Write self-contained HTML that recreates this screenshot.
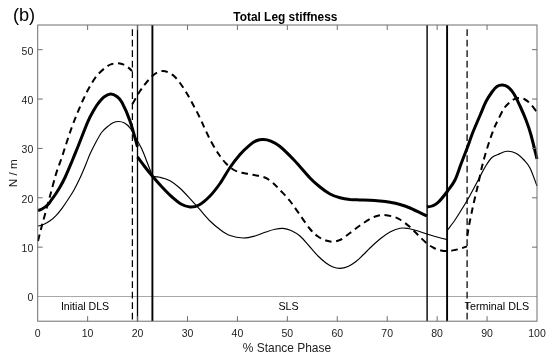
<!DOCTYPE html>
<html><head><meta charset="utf-8"><title>Total Leg stiffness</title>
<style>html,body{margin:0;padding:0;background:#fff;width:550px;height:360px;overflow:hidden}</style></head>
<body>
<svg width="550" height="360" viewBox="0 0 550 360" style="position:absolute;left:0;top:0">
<rect width="550" height="360" fill="#fff"/>
<line x1="37.7" x2="537.0" y1="296.52" y2="296.52" stroke="#a8a8a8" stroke-width="1"/>
<g fill="none" stroke="#000" stroke-linejoin="round">
<path d="M38.0,226.0C39.0,225.7 42.0,225.2 44.0,224.3C46.0,223.4 48.0,222.2 50.0,220.8C52.0,219.4 54.0,217.7 56.0,215.6C58.0,213.5 60.0,211.0 62.0,208.3C64.0,205.6 66.0,202.6 68.0,199.5C70.0,196.4 72.0,193.6 74.0,190.0C76.0,186.4 78.0,182.3 80.0,178.0C82.0,173.7 84.3,168.0 86.0,164.0C87.7,160.0 88.3,157.7 90.0,154.0C91.7,150.3 94.0,145.7 96.0,142.0C98.0,138.3 100.0,134.6 102.0,132.0C104.0,129.4 106.2,127.8 108.0,126.3C109.8,124.8 111.2,123.6 113.0,122.8C114.8,122.0 116.6,121.5 118.5,121.5C120.4,121.5 122.6,122.0 124.5,123.0C126.4,124.0 128.3,125.7 130.0,127.8C131.7,129.9 132.5,132.3 134.5,135.8C136.5,139.3 139.6,144.4 141.8,149.0C144.0,153.6 145.8,158.9 147.6,163.5C149.4,168.1 151.8,174.3 152.6,176.5" stroke-width="1.15"/>
<path d="M152.6,176.5C153.8,176.6 157.1,176.6 160.0,177.3C162.9,178.0 166.7,178.9 170.0,180.7C173.3,182.5 176.7,185.2 180.0,188.2C183.3,191.2 186.7,195.0 190.0,198.6C193.3,202.2 196.7,206.0 200.0,209.7C203.3,213.4 206.7,217.7 210.0,221.0C213.3,224.3 216.7,227.1 220.0,229.5C223.3,231.9 226.2,234.1 230.0,235.5C233.8,236.9 238.8,237.9 243.0,238.0C247.2,238.1 251.2,237.0 255.0,236.0C258.8,235.0 262.7,233.1 266.0,232.0C269.3,230.9 272.2,229.9 275.0,229.3C277.8,228.7 280.3,228.2 283.0,228.4C285.7,228.6 288.2,229.2 291.0,230.5C293.8,231.8 296.8,233.2 300.0,236.0C303.2,238.8 307.0,243.7 310.0,247.0C313.0,250.3 315.3,253.3 318.0,256.0C320.7,258.7 323.5,261.2 326.0,263.0C328.5,264.8 330.7,266.1 333.0,267.0C335.3,267.9 337.5,268.5 340.0,268.4C342.5,268.3 345.3,267.6 348.0,266.5C350.7,265.4 353.5,263.4 356.0,261.5C358.5,259.6 360.7,257.2 363.0,255.0C365.3,252.8 367.2,250.7 370.0,248.0C372.8,245.3 376.7,241.7 380.0,239.0C383.3,236.3 386.7,233.8 390.0,232.0C393.3,230.2 397.0,228.9 400.0,228.3C403.0,227.7 405.0,228.1 408.0,228.5C411.0,228.9 414.8,230.1 418.0,231.0C421.2,231.9 423.8,233.0 427.0,234.0C430.2,235.0 433.6,236.1 437.0,237.0C440.4,237.9 445.8,239.2 447.6,239.6" stroke-width="1.15"/>
<path d="M447.6,230.0C448.8,228.3 452.8,223.2 455.0,220.0C457.2,216.8 458.9,213.8 461.0,210.5C463.1,207.2 465.1,204.1 467.4,200.0C469.7,195.9 472.9,189.9 475.0,186.0C477.1,182.1 478.2,179.9 480.0,176.5C481.8,173.1 484.0,168.7 486.0,165.5C488.0,162.3 490.0,159.3 492.0,157.5C494.0,155.7 496.2,155.4 498.0,154.5C499.8,153.6 501.5,152.7 503.0,152.2C504.5,151.7 505.5,151.4 507.0,151.3C508.5,151.2 510.2,151.3 512.0,151.8C513.8,152.3 516.0,153.1 518.0,154.5C520.0,155.9 522.0,157.8 524.0,160.0C526.0,162.2 527.8,163.7 530.0,168.0C532.2,172.3 535.8,183.0 537.0,186.0" stroke-width="1.15"/>
<path d="M38.0,241.0C38.5,239.0 40.0,232.8 41.0,229.0C42.0,225.2 42.5,223.5 44.0,218.0C45.5,212.5 48.0,203.3 50.0,196.0C52.0,188.7 54.1,180.3 56.0,174.0C57.9,167.7 59.8,163.3 61.6,158.0C63.4,152.7 65.1,147.2 66.8,142.0C68.5,136.8 70.2,131.7 71.9,127.0C73.6,122.3 75.2,118.5 77.0,114.0C78.8,109.5 81.0,104.3 83.0,100.0C85.0,95.7 86.7,92.1 89.0,88.0C91.3,83.9 94.1,79.0 97.0,75.5C99.9,72.0 104.0,68.7 106.5,66.8C109.0,64.9 110.2,64.6 112.0,64.0C113.8,63.4 115.6,63.2 117.3,63.2C119.0,63.2 120.4,63.5 122.0,64.0C123.6,64.5 125.3,65.3 127.0,66.5C128.7,67.7 131.2,70.2 132.0,71.0" stroke-width="2" stroke-dasharray="6.6 4.6"/>
<path d="M132.4,104.0C133.7,101.8 137.7,94.5 140.0,91.0C142.3,87.5 143.9,85.5 146.0,83.0C148.1,80.5 150.4,77.8 152.4,76.0C154.4,74.2 156.2,73.0 158.0,72.2C159.8,71.4 161.3,71.0 163.0,71.0C164.7,71.0 166.2,71.5 168.0,72.3C169.8,73.1 172.0,74.2 174.0,76.0C176.0,77.8 178.0,80.3 180.0,83.0C182.0,85.7 183.8,88.4 186.0,92.0C188.2,95.6 190.7,100.2 193.0,104.5C195.3,108.8 198.0,113.9 200.0,118.0C202.0,122.1 203.3,125.4 205.0,129.0C206.7,132.6 208.2,136.0 210.0,139.5C211.8,143.0 214.3,147.2 216.0,150.0C217.7,152.8 218.3,153.8 220.0,156.0C221.7,158.2 223.7,161.2 226.0,163.5C228.3,165.8 231.3,168.4 234.0,170.0C236.7,171.6 239.3,172.1 242.0,172.8C244.7,173.5 247.3,173.8 250.0,174.3C252.7,174.8 255.3,175.2 258.0,175.8C260.7,176.4 263.5,176.8 266.0,178.0C268.5,179.2 270.7,181.0 273.0,183.0C275.3,185.0 277.2,187.0 280.0,190.0C282.8,193.0 286.7,196.8 290.0,201.0C293.3,205.2 296.7,210.3 300.0,215.0C303.3,219.7 307.0,225.4 310.0,229.0C313.0,232.6 315.3,234.6 318.0,236.5C320.7,238.4 323.5,239.7 326.0,240.5C328.5,241.3 330.5,241.8 333.0,241.6C335.5,241.4 338.2,240.9 341.0,239.5C343.8,238.1 346.8,235.3 350.0,233.0C353.2,230.7 356.7,227.8 360.0,225.5C363.3,223.2 367.2,220.6 370.0,219.0C372.8,217.4 374.8,216.7 377.0,216.0C379.2,215.3 380.5,214.9 383.0,215.0C385.5,215.1 389.2,215.6 392.0,216.3C394.8,217.1 397.0,217.7 400.0,219.5C403.0,221.3 407.0,224.4 410.0,227.0C413.0,229.6 415.2,232.2 418.0,235.0C420.8,237.8 424.3,241.3 427.0,243.5C429.7,245.7 431.7,246.8 434.0,248.0C436.3,249.2 438.7,250.0 441.0,250.5C443.3,251.0 445.7,251.1 448.0,251.0C450.3,250.9 452.8,250.4 455.0,250.0C457.2,249.6 459.0,249.1 461.0,248.5C463.0,247.9 466.0,246.8 467.0,246.4" stroke-width="2" stroke-dasharray="6.6 4.6"/>
<path d="M467.3,236.0C467.7,233.8 468.6,227.5 469.5,223.0C470.4,218.5 471.5,213.2 472.4,209.0C473.3,204.8 474.1,201.5 475.0,197.5C475.9,193.5 476.8,190.2 478.0,185.0C479.2,179.8 480.7,172.0 482.0,166.5C483.3,161.0 484.7,156.5 486.0,152.0C487.3,147.5 488.7,143.4 490.0,139.5C491.3,135.6 492.7,131.8 494.0,128.5C495.3,125.2 496.3,123.3 498.0,120.0C499.7,116.7 502.0,111.5 504.0,108.5C506.0,105.5 508.2,103.6 510.0,102.0C511.8,100.4 513.3,99.5 515.0,98.8C516.7,98.1 518.3,97.9 520.0,98.0C521.7,98.1 523.3,98.6 525.0,99.5C526.7,100.4 528.0,101.4 530.0,103.5C532.0,105.6 535.8,110.6 537.0,112.0" stroke-width="2" stroke-dasharray="6.6 4.6"/>
<path d="M38.0,210.5C38.7,210.2 40.4,209.9 42.0,209.0C43.6,208.1 46.0,206.4 47.5,205.0C49.0,203.6 49.8,202.2 51.0,200.5C52.2,198.8 53.5,197.2 55.0,195.0C56.5,192.8 58.3,189.9 60.0,187.0C61.7,184.1 62.9,182.0 65.0,177.5C67.1,173.0 70.3,165.2 72.5,160.0C74.7,154.8 75.4,152.9 78.0,146.5C80.6,140.1 85.3,127.4 88.0,121.3C90.7,115.2 92.3,112.8 94.0,109.8C95.7,106.8 96.3,105.7 98.0,103.6C99.7,101.5 101.9,98.6 104.0,97.0C106.1,95.4 108.4,94.1 110.5,94.0C112.6,93.9 114.6,94.8 116.5,96.2C118.4,97.6 119.8,98.4 122.0,102.5C124.2,106.6 127.4,113.6 130.0,121.0C132.6,128.4 136.2,142.4 137.5,146.7" stroke-width="3"/>
<path d="M137.5,157.0C138.8,158.7 142.5,163.8 145.0,167.0C147.5,170.2 149.9,173.2 152.7,176.5C155.5,179.8 158.8,183.6 162.0,187.0C165.2,190.4 168.8,194.2 172.0,197.0C175.2,199.8 178.0,202.3 181.0,204.0C184.0,205.7 187.0,206.8 190.0,207.0C193.0,207.2 195.7,206.8 199.0,205.0C202.3,203.2 206.5,199.6 210.0,196.0C213.5,192.4 216.7,188.2 220.0,183.5C223.3,178.8 226.7,172.3 230.0,167.5C233.3,162.7 236.7,158.3 240.0,154.5C243.3,150.7 247.2,147.1 250.0,144.8C252.8,142.5 254.8,141.4 257.0,140.5C259.2,139.6 260.8,139.4 263.0,139.5C265.2,139.6 267.2,139.6 270.0,140.8C272.8,142.0 276.0,143.3 280.0,146.5C284.0,149.7 289.0,154.8 294.0,160.0C299.0,165.2 305.7,173.5 310.0,178.0C314.3,182.5 316.7,184.3 320.0,187.0C323.3,189.7 326.7,192.2 330.0,194.0C333.3,195.8 336.7,196.9 340.0,197.8C343.3,198.7 346.7,199.2 350.0,199.6C353.3,199.9 356.7,199.8 360.0,199.9C363.3,200.0 366.7,200.0 370.0,200.2C373.3,200.4 376.7,200.7 380.0,201.0C383.3,201.3 386.7,201.7 390.0,202.3C393.3,202.9 396.7,203.6 400.0,204.5C403.3,205.4 405.5,206.1 410.0,208.0C414.5,209.9 424.2,214.7 427.0,216.0" stroke-width="3"/>
<path d="M427.0,207.0C427.8,206.8 430.2,206.8 432.0,206.0C433.8,205.2 435.4,205.0 438.0,202.5C440.6,200.0 444.8,194.8 447.6,191.0C450.4,187.2 452.8,184.5 455.0,180.0C457.2,175.5 459.0,169.2 461.0,164.0C463.0,158.8 465.0,153.8 467.0,148.5C469.0,143.2 470.8,137.5 473.0,132.0C475.2,126.5 477.8,120.6 480.0,115.5C482.2,110.4 484.0,105.4 486.0,101.5C488.0,97.6 490.2,94.5 492.0,92.0C493.8,89.5 495.2,87.7 497.0,86.5C498.8,85.3 500.8,84.9 502.6,85.0C504.4,85.1 506.1,85.5 508.0,87.0C509.9,88.5 512.0,90.8 514.0,94.0C516.0,97.2 518.0,101.7 520.0,106.0C522.0,110.3 524.2,115.2 526.0,120.0C527.8,124.8 529.2,128.5 531.0,135.0C532.8,141.5 536.0,155.0 537.0,159.0" stroke-width="3"/>
<line x1="132.4" x2="132.4" y1="29.2" y2="321.2" stroke-width="1.25" stroke-dasharray="6.8 3.7"/>
<line x1="467.1" x2="467.1" y1="29.2" y2="321.2" stroke-width="1.25" stroke-dasharray="6.8 3.7"/>
<line x1="137.5" x2="137.5" y1="25.0" y2="321.2" stroke-width="1.3"/>
<line x1="427.1" x2="427.1" y1="25.0" y2="321.2" stroke-width="1.4"/>
<line x1="152.4" x2="152.4" y1="25.0" y2="321.2" stroke-width="1.9"/>
<line x1="447.1" x2="447.1" y1="25.0" y2="321.2" stroke-width="1.9"/>
</g>
<g stroke="#6e6e6e" stroke-width="1" fill="none">
<rect x="37.7" y="25.0" width="499.3" height="296.2"/>
<line x1="87.63" x2="87.63" y1="321.2" y2="316.2"/>
<line x1="87.63" x2="87.63" y1="25.0" y2="30.0"/>
<line x1="137.56" x2="137.56" y1="321.2" y2="316.2"/>
<line x1="137.56" x2="137.56" y1="25.0" y2="30.0"/>
<line x1="187.49" x2="187.49" y1="321.2" y2="316.2"/>
<line x1="187.49" x2="187.49" y1="25.0" y2="30.0"/>
<line x1="237.42" x2="237.42" y1="321.2" y2="316.2"/>
<line x1="237.42" x2="237.42" y1="25.0" y2="30.0"/>
<line x1="287.35" x2="287.35" y1="321.2" y2="316.2"/>
<line x1="287.35" x2="287.35" y1="25.0" y2="30.0"/>
<line x1="337.28" x2="337.28" y1="321.2" y2="316.2"/>
<line x1="337.28" x2="337.28" y1="25.0" y2="30.0"/>
<line x1="387.21" x2="387.21" y1="321.2" y2="316.2"/>
<line x1="387.21" x2="387.21" y1="25.0" y2="30.0"/>
<line x1="437.14" x2="437.14" y1="321.2" y2="316.2"/>
<line x1="437.14" x2="437.14" y1="25.0" y2="30.0"/>
<line x1="487.07" x2="487.07" y1="321.2" y2="316.2"/>
<line x1="487.07" x2="487.07" y1="25.0" y2="30.0"/>
<line x1="37.7" x2="42.7" y1="247.15" y2="247.15"/>
<line x1="537.0" x2="532.0" y1="247.15" y2="247.15"/>
<line x1="37.7" x2="42.7" y1="197.78" y2="197.78"/>
<line x1="537.0" x2="532.0" y1="197.78" y2="197.78"/>
<line x1="37.7" x2="42.7" y1="148.42" y2="148.42"/>
<line x1="537.0" x2="532.0" y1="148.42" y2="148.42"/>
<line x1="37.7" x2="42.7" y1="99.05" y2="99.05"/>
<line x1="537.0" x2="532.0" y1="99.05" y2="99.05"/>
<line x1="37.7" x2="42.7" y1="49.68" y2="49.68"/>
<line x1="537.0" x2="532.0" y1="49.68" y2="49.68"/>
</g>
<g font-family="'Liberation Sans', Arial, sans-serif" fill="#222" font-size="10.5">
<text x="37.70" y="336.8" text-anchor="middle">0</text>
<text x="87.63" y="336.8" text-anchor="middle">10</text>
<text x="137.56" y="336.8" text-anchor="middle">20</text>
<text x="187.49" y="336.8" text-anchor="middle">30</text>
<text x="237.42" y="336.8" text-anchor="middle">40</text>
<text x="287.35" y="336.8" text-anchor="middle">50</text>
<text x="337.28" y="336.8" text-anchor="middle">60</text>
<text x="387.21" y="336.8" text-anchor="middle">70</text>
<text x="437.14" y="336.8" text-anchor="middle">80</text>
<text x="487.07" y="336.8" text-anchor="middle">90</text>
<text x="537.00" y="336.8" text-anchor="middle">100</text>
<text x="33.3" y="301.42" text-anchor="end">0</text>
<text x="33.3" y="252.05" text-anchor="end">10</text>
<text x="33.3" y="202.68" text-anchor="end">20</text>
<text x="33.3" y="153.32" text-anchor="end">30</text>
<text x="33.3" y="103.95" text-anchor="end">40</text>
<text x="33.3" y="54.58" text-anchor="end">50</text>
<text x="60.9" y="310.2" fill="#000" font-size="10.6">Initial DLS</text>
<text x="278.4" y="310.3" fill="#000" font-size="10.7">SLS</text>
<text x="464.6" y="310.4" fill="#000" font-size="10.75">Terminal DLS</text>
<text x="287" y="352.3" text-anchor="middle" font-size="11.95">% Stance Phase</text>
<text transform="translate(16.8,173.3) rotate(-90)" text-anchor="middle" font-size="11.6">N / m</text>
<text x="233.3" y="20.5" font-size="11.9" font-weight="bold" fill="#000">Total Leg stiffness</text>
<text x="12.9" y="21.1" font-size="18.2" fill="#000">(b)</text>
</g>
</svg>
</body></html>
